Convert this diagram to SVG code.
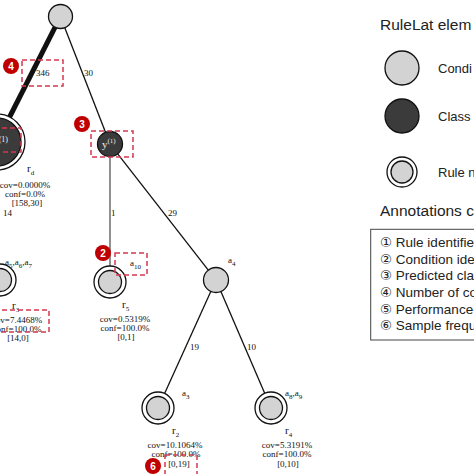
<svg xmlns="http://www.w3.org/2000/svg" width="474" height="474" viewBox="0 0 474 474">
<style>
.t{font-family:"Liberation Serif","Times New Roman",serif;fill:#111}
.lb{font-size:9px}
.rl{font-size:11px}
.sub{font-size:7px}
.e{stroke:#111;stroke-width:1.3;fill:none}
.cond{fill:#d3d3d3;stroke:#111;stroke-width:1.3}
.cls{fill:#3b3b3b;stroke:#111;stroke-width:1.3}
.ring{fill:#fff;stroke:#111;stroke-width:1.3}
.dash{fill:none;stroke:#d2394f;stroke-width:1.5;stroke-dasharray:5 3}
.badge{fill:#c00000}
.bt{font-family:"Liberation Sans",Arial,sans-serif;font-size:10px;font-weight:bold;fill:#fff;text-anchor:middle}
.lg{font-family:"Liberation Sans","DejaVu Sans",Arial,sans-serif;fill:#222}
.m{text-anchor:middle}
</style>
<rect x="0" y="0" width="474" height="474" fill="#fff"/>
<g id="connectors">
<line x1="55.1" y1="27.2" x2="9.6" y2="117" stroke="#111" stroke-width="5"/>
<line class="e" x1="64.8" y1="27.7" x2="105.5" y2="132.3"/>
<line x1="110" y1="156.5" x2="110" y2="266" stroke="#555" stroke-width="1.3"/>
<line class="e" x1="117.7" y1="153.9" x2="208.3" y2="270.1"/>
<line class="e" x1="210.8" y1="291.4" x2="164.6" y2="393.4"/>
<line class="e" x1="220.9" y1="291.5" x2="264.7" y2="393.3"/>
<text class="t lb" x="36" y="76">346</text>
<text class="t lb" x="84" y="76">30</text>
<text class="t lb" x="111" y="216">1</text>
<text class="t lb" x="168" y="216">29</text>
<text class="t lb" x="3" y="216">14</text>
<text class="t lb" x="190" y="350">19</text>
<text class="t lb" x="247" y="350">10</text>
</g>
<g id="root">
<circle class="cond" cx="60.5" cy="16.5" r="12"/>
</g>
<g id="node-rd">
<circle class="ring" cx="-3" cy="142" r="28"/>
<circle class="cls" cx="-3" cy="142" r="24"/>
<text class="t" x="-5" y="146" font-size="11" style="fill:#eee">r<tspan font-size="8" dy="-4">(1)</tspan></text>
<text class="t rl" x="27" y="172">r<tspan class="sub" dy="3">d</tspan></text>
<text class="t lb m" x="25" y="188">cov=0.0000%</text>
<text class="t lb m" x="25" y="197">conf=0.0%</text>
<text class="t lb m" x="27" y="206">[158,30]</text>
</g>
<g id="node-y">
<circle class="cls" cx="110" cy="144" r="12.5"/>
<text class="t" x="102" y="148" font-size="11" style="fill:#eee">y<tspan font-size="7" dy="-5">(1)</tspan></text>
</g>
<g id="node-r3">
<circle class="ring" cx="0" cy="280" r="16"/>
<circle class="cond" cx="0" cy="280" r="11.5"/>
<text class="t" x="5" y="265" font-size="9">a<tspan class="sub" dy="3">5</tspan><tspan dy="-3">,a</tspan><tspan class="sub" dy="3">6</tspan><tspan dy="-3">,a</tspan><tspan class="sub" dy="3">7</tspan></text>
<text class="t rl" x="12" y="309">r<tspan class="sub" dy="3">3</tspan></text>
<text class="t lb m" x="17" y="323">cov=7.4468%</text>
<text class="t lb m" x="17" y="332">conf=100.0%</text>
<text class="t lb m" x="18" y="341">[14,0]</text>
</g>
<g id="node-r5">
<circle class="ring" cx="110" cy="282" r="16"/>
<circle class="cond" cx="110" cy="282" r="11.5"/>
<text class="t" x="130" y="266" font-size="9">a<tspan class="sub" dy="3">10</tspan></text>
<text class="t rl" x="122" y="308">r<tspan class="sub" dy="3">5</tspan></text>
<text class="t lb m" x="125" y="322">cov=0.5319%</text>
<text class="t lb m" x="125" y="331">conf=100.0%</text>
<text class="t lb m" x="126" y="340">[0,1]</text>
</g>
<g id="node-a4">
<circle class="cond" cx="216" cy="280" r="12.5"/>
<text class="t" x="228" y="263" font-size="9">a<tspan class="sub" dy="3">4</tspan></text>
</g>
<g id="node-r2">
<circle class="ring" cx="158" cy="408" r="16"/>
<circle class="cond" cx="158" cy="408" r="11.5"/>
<text class="t" x="182" y="396" font-size="9">a<tspan class="sub" dy="3">3</tspan></text>
<text class="t rl" x="172" y="434">r<tspan class="sub" dy="3">2</tspan></text>
<text class="t lb m" x="175" y="448">cov=10.1064%</text>
<text class="t lb m" x="176" y="457">conf=100.0%</text>
<text class="t lb m" x="179" y="467">[0,19]</text>
</g>
<g id="node-r4">
<circle class="ring" cx="271" cy="408" r="16"/>
<circle class="cond" cx="271" cy="408" r="11.5"/>
<text class="t" x="285" y="396" font-size="9">a<tspan class="sub" dy="3">8</tspan><tspan dy="-3">,a</tspan><tspan class="sub" dy="3">9</tspan></text>
<text class="t rl" x="285" y="434">r<tspan class="sub" dy="3">4</tspan></text>
<text class="t lb m" x="287" y="448">cov=5.3191%</text>
<text class="t lb m" x="287" y="457">conf=100.0%</text>
<text class="t lb m" x="288" y="467">[0,10]</text>
</g>
<g id="annotations">
<rect class="dash" x="22" y="60" width="41" height="26"/>
<circle class="badge" cx="11" cy="66" r="8"/><text class="bt" x="11" y="69.5">4</text>
<rect class="dash" x="91" y="131" width="42" height="26"/>
<circle class="badge" cx="82" cy="124" r="8"/><text class="bt" x="82" y="127.5">3</text>
<rect class="dash" x="-6" y="128" width="27" height="24"/>
<rect class="dash" x="115" y="253" width="32" height="22"/>
<circle class="badge" cx="103" cy="253" r="8"/><text class="bt" x="103" y="256.5">2</text>
<rect class="dash" x="-6" y="310" width="55" height="22"/>
<rect class="dash" x="165" y="455" width="32" height="22"/>
<circle class="badge" cx="153" cy="466" r="8"/><text class="bt" x="153" y="469.5">6</text>
</g>
<g id="legend">
<text class="lg" x="380" y="30" font-size="15.5">RuleLat elem</text>
<circle class="cond" cx="402" cy="68" r="17"/>
<text class="lg" x="438" y="72.5" font-size="13">Condi</text>
<circle class="cls" cx="402" cy="116" r="17"/>
<text class="lg" x="438" y="120.5" font-size="13">Class</text>
<circle class="ring" cx="402" cy="172" r="15"/>
<circle class="cond" cx="402" cy="172" r="11"/>
<text class="lg" x="438" y="176.5" font-size="13">Rule n</text>
<text class="lg" x="380" y="216" font-size="15.5">Annotations c</text>
<rect x="370.7" y="229.3" width="110" height="110.7" fill="none" stroke="#444" stroke-width="1"/>
<g font-size="13.5">
<text class="lg" x="380" y="247">①  Rule identifie</text>
<text class="lg" x="380" y="263.7">② Condition ide</text>
<text class="lg" x="380" y="280.3">③ Predicted cla</text>
<text class="lg" x="380" y="297">④ Number of co</text>
<text class="lg" x="380" y="313.7">⑤ Performance-</text>
<text class="lg" x="380" y="330.3">⑥ Sample frequ</text>
</g>
</g>
</svg>
